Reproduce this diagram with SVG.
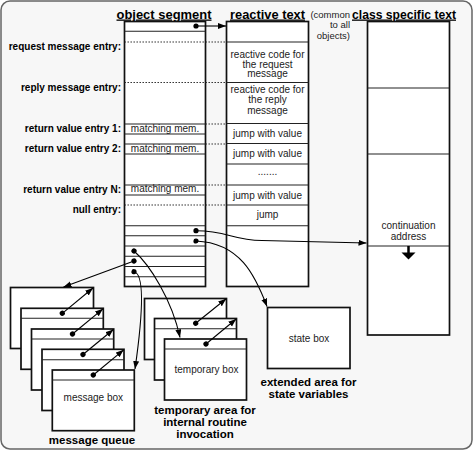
<svg xmlns="http://www.w3.org/2000/svg" width="474" height="451" viewBox="0 0 474 451">
<defs>
<marker id="arr" markerUnits="userSpaceOnUse" markerWidth="9" markerHeight="7" refX="8" refY="3" orient="auto">
<path d="M0,0 L8,3 L0,6 z" fill="#000"/>
</marker>
<marker id="dot" markerUnits="userSpaceOnUse" markerWidth="7" markerHeight="7" refX="3.5" refY="3.5" orient="auto">
<circle cx="3.5" cy="3.5" r="2.6" fill="#000"/>
</marker>
<style>
.box{fill:#fff;stroke:#111;stroke-width:1.7}
.ln{stroke:#222;stroke-width:1.1;fill:none}
.dt{stroke:#222;stroke-width:1.1;stroke-dasharray:1.4 1.6;fill:none}
.hd{font-family:"Liberation Sans",Arial,sans-serif;font-size:13px;font-weight:bold;text-anchor:middle;text-decoration:underline;fill:#000}
.lb{font-family:"Liberation Sans",Arial,sans-serif;font-size:10px;font-weight:bold;text-anchor:end;fill:#000}
.tx{font-family:"Liberation Sans",Arial,sans-serif;font-size:10px;text-anchor:middle;fill:#222}
.sm{font-family:"Liberation Sans",Arial,sans-serif;font-size:9.5px;text-anchor:end;fill:#222}
.bl{font-family:"Liberation Sans",Arial,sans-serif;font-size:11.5px;font-weight:bold;text-anchor:middle;fill:#000}
.cn{fill:none;stroke:#000;stroke-width:1.1;marker-start:url(#dot);marker-end:url(#arr)}
</style>
</defs>
<rect x="1" y="1" width="471" height="448" rx="9" fill="#f7f7f7" stroke="#666" stroke-width="1.5"/>

<g id="headers">
<text class="hd" x="164" y="18.5" textLength="95" lengthAdjust="spacingAndGlyphs">object segment</text>
<text class="hd" x="267.5" y="18.5" textLength="75" lengthAdjust="spacingAndGlyphs">reactive text</text>
<text class="hd" x="404" y="18.5" textLength="104" lengthAdjust="spacingAndGlyphs">class specific text</text>
<text class="sm" x="350" y="17.5">(common</text>
<text class="sm" x="350" y="28">to all</text>
<text class="sm" x="350" y="38.5">objects)</text>
</g>

<g id="entry-labels">
<text class="lb" x="121" y="49.5">request message entry:</text>
<text class="lb" x="121" y="91">reply message entry:</text>
<text class="lb" x="121" y="132">return value entry 1:</text>
<text class="lb" x="121" y="152">return value entry 2:</text>
<text class="lb" x="121" y="192.5">return value entry N:</text>
<text class="lb" x="121" y="213">null entry:</text>
</g>

<g id="object-segment">
<rect class="box" x="124.5" y="21.5" width="81" height="265"/>
<line class="ln" x1="124.5" y1="31.3" x2="205.5" y2="31.3"/>
<line class="dt" x1="124.5" y1="42" x2="226.5" y2="42"/>
<line class="dt" x1="124.5" y1="82.5" x2="226.5" y2="82.5"/>
<line class="ln" x1="124.5" y1="124" x2="205.5" y2="124"/>
<line class="dt" x1="205.5" y1="124" x2="226.5" y2="124"/>
<line class="ln" x1="124.5" y1="134" x2="205.5" y2="134"/>
<line class="ln" x1="124.5" y1="144" x2="205.5" y2="144"/>
<line class="dt" x1="205.5" y1="144" x2="226.5" y2="144"/>
<line class="ln" x1="124.5" y1="154" x2="205.5" y2="154"/>
<line class="ln" x1="124.5" y1="185" x2="205.5" y2="185"/>
<line class="dt" x1="205.5" y1="185" x2="226.5" y2="185"/>
<line class="ln" x1="124.5" y1="195" x2="205.5" y2="195"/>
<line class="dt" x1="124.5" y1="205" x2="226.5" y2="205"/>
<line class="ln" x1="124.5" y1="225.7" x2="205.5" y2="225.7"/>
<line class="ln" x1="124.5" y1="235.8" x2="205.5" y2="235.8"/>
<line class="ln" x1="124.5" y1="246" x2="205.5" y2="246"/>
<line class="ln" x1="124.5" y1="256.2" x2="205.5" y2="256.2"/>
<line class="ln" x1="124.5" y1="266.5" x2="205.5" y2="266.5"/>
<line class="ln" x1="124.5" y1="276.7" x2="205.5" y2="276.7"/>
<text class="tx" x="165" y="131.5">matching mem.</text>
<text class="tx" x="165" y="151.5">matching mem.</text>
<text class="tx" x="165" y="192">matching mem.</text>
</g>

<g id="reactive-text">
<rect class="box" x="226.5" y="21.5" width="82" height="265"/>
<line class="ln" x1="226.5" y1="42" x2="308.5" y2="42"/>
<line class="ln" x1="226.5" y1="82.5" x2="308.5" y2="82.5"/>
<line class="ln" x1="226.5" y1="123.5" x2="308.5" y2="123.5"/>
<line class="ln" x1="226.5" y1="143.5" x2="308.5" y2="143.5"/>
<line class="ln" x1="226.5" y1="164" x2="308.5" y2="164"/>
<line class="ln" x1="226.5" y1="185" x2="308.5" y2="185"/>
<line class="ln" x1="226.5" y1="205" x2="308.5" y2="205"/>
<line class="ln" x1="226.5" y1="225.7" x2="308.5" y2="225.7"/>
<text class="tx" x="267.5" y="58">reactive code for</text>
<text class="tx" x="267.5" y="67.5">the request</text>
<text class="tx" x="267.5" y="77">message</text>
<text class="tx" x="267.5" y="92.5">reactive code for</text>
<text class="tx" x="267.5" y="103">the reply</text>
<text class="tx" x="267.5" y="113.5">message</text>
<text class="tx" x="267.5" y="136.5">jump with value</text>
<text class="tx" x="267.5" y="157">jump with value</text>
<text class="tx" x="267.5" y="174.5">.......</text>
<text class="tx" x="267.5" y="198.5">jump with value</text>
<text class="tx" x="267.5" y="218">jump</text>
</g>

<g id="class-specific-text">
<rect class="box" x="367.5" y="21.5" width="82" height="313.5"/>
<line class="ln" x1="367.5" y1="88" x2="449.5" y2="88"/>
<line class="ln" x1="367.5" y1="154" x2="449.5" y2="154"/>
<line class="ln" x1="367.5" y1="246" x2="449.5" y2="246"/>
<text class="tx" x="408.5" y="229">continuation</text>
<text class="tx" x="408.5" y="239.5">address</text>
<line x1="408.5" y1="246" x2="408.5" y2="253" stroke="#000" stroke-width="2.5"/>
<path d="M401.5,252.5 L415.5,252.5 L408.5,259.5 z" fill="#000"/>
</g>

<g id="message-queue">
<rect class="box" x="10.5" y="287.5" width="83" height="61"/>
<rect class="box" x="21" y="308.3" width="82.3" height="61"/>
<line class="ln" x1="21" y1="318.3" x2="103.3" y2="318.3"/>
<rect class="box" x="31.5" y="329" width="82.2" height="61"/>
<line class="ln" x1="31.5" y1="339" x2="113.7" y2="339"/>
<rect class="box" x="42" y="349.3" width="82" height="61.2"/>
<line class="ln" x1="42" y1="359.7" x2="124" y2="359.7"/>
<rect class="box" x="52.3" y="370" width="82" height="60.7"/>
<line class="ln" x1="52.3" y1="380" x2="134.3" y2="380"/>
<text class="tx" x="93.3" y="401">message box</text>
<text class="bl" x="92" y="443.5">message queue</text>
</g>

<g id="temporary-area">
<rect class="box" x="144.5" y="298.5" width="82" height="61"/>
<rect class="box" x="154.5" y="318.5" width="82" height="61.5"/>
<line class="ln" x1="154.5" y1="328.7" x2="236.5" y2="328.7"/>
<rect class="box" x="164.5" y="339" width="82" height="61"/>
<line class="ln" x1="164.5" y1="349" x2="246.5" y2="349"/>
<text class="tx" x="206.5" y="373">temporary box</text>
<text class="bl" x="205" y="413.5">temporary area for</text>
<text class="bl" x="205" y="425.5">internal routine</text>
<text class="bl" x="205" y="437.5">invocation</text>
</g>

<g id="state-area">
<rect class="box" x="267.5" y="307.5" width="82.5" height="61"/>
<text class="tx" x="309" y="341.5">state box</text>
<text class="bl" x="308.5" y="386">extended area for</text>
<text class="bl" x="308.5" y="397.5">state variables</text>
</g>

<g id="connectors">
<path class="cn" d="M196,26 L226,26"/>
<path class="cn" d="M196,230.7 C228,231 232,240 262,240.5 L366.5,243"/>
<path class="cn" d="M196,241 C240,243 255,275 267,306.5"/>
<path class="cn" d="M134,251 C150,265 172,300 180,337.5"/>
<path class="cn" d="M134,261 L63.5,287"/>
<path class="cn" d="M134,271.7 C146,274 142,320 135,369"/>
<path class="cn" d="M62.3,313.3 L93,288"/>
<path class="cn" d="M72.5,334 L103,308.8"/>
<path class="cn" d="M83,354.5 L113.4,329.5"/>
<path class="cn" d="M93.3,375 L123.7,349.8"/>
<path class="cn" d="M195.7,323.3 L226.2,298.8"/>
<path class="cn" d="M206,344 L236.2,319"/>
</g>
</svg>
